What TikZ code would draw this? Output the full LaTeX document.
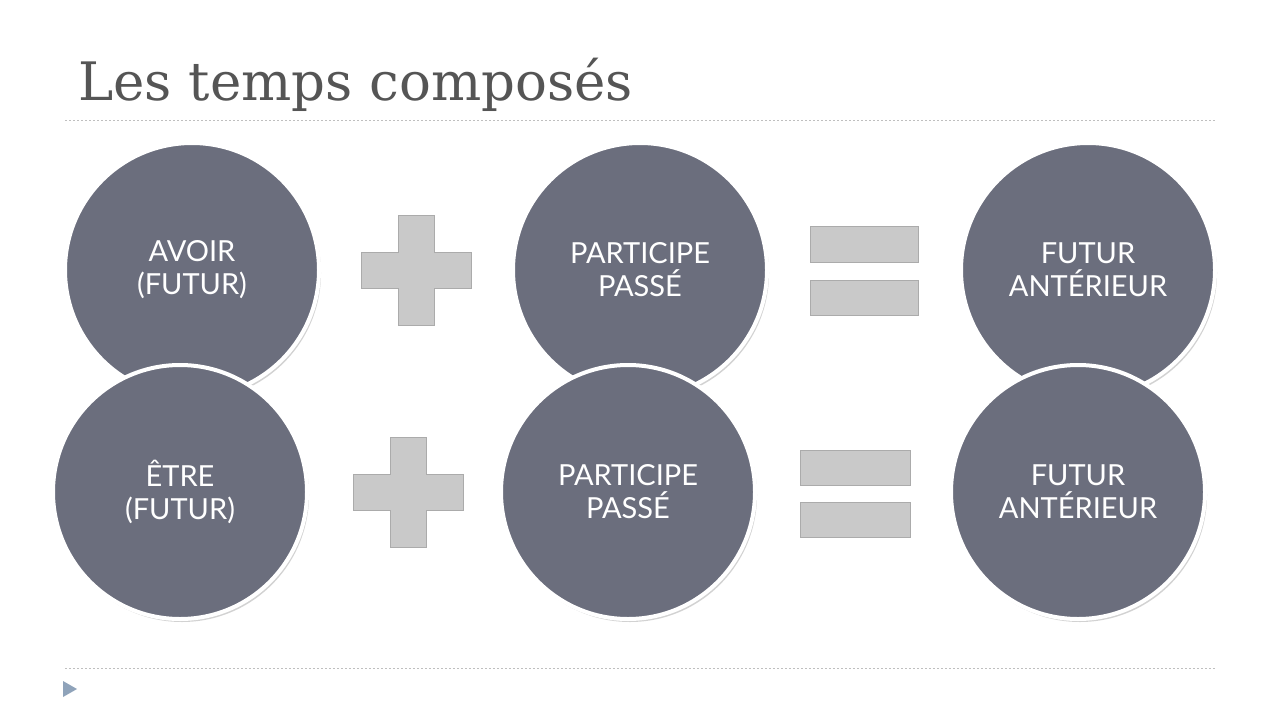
\documentclass[tikz,border=0pt]{standalone}
\usepackage{fontspec}
\setmainfont{DejaVu Serif}
\newfontfamily\circfont{Lato}
\definecolor{circ}{HTML}{6B6E7D}
\definecolor{sym}{HTML}{C9C9C9}
\definecolor{ttl}{HTML}{555555}
\definecolor{tri}{HTML}{8FA3BA}
\begin{document}
\begin{tikzpicture}[x=1pt,y=-1pt,
  circ/.style={circle,fill=circ,draw=white,line width=4pt,minimum size=254pt,inner sep=0pt,
    text=white,align=center,font=\circfont\fontsize{29}{33}\selectfont,
    preaction={fill=black!35,opacity=0.5,transform canvas={shift={(2pt,-3pt)}}}},
  symb/.style={fill=sym,draw=sym!85!black,line width=0.6pt},
  sep/.style={draw=gray!50,dash pattern=on 2pt off 2pt,line width=0.8pt}]
\useasboundingbox (0,0) rectangle (1280,720);
\fill[white] (0,0) rectangle (1280,720);
\node[anchor=base west,text=ttl,font=\fontsize{53}{60}\selectfont,inner sep=0pt] (title) at (78,100) {Les temps composés};
\draw[sep] (65,120) -- (1215,120);
\draw[sep] (65,668) -- (1215,668);
\fill[tri] (63,681) -- (77,689) -- (63,697) -- cycle;
% row 1
\node[circ] (a1) at (192,270) {AVOIR\\(FUTUR)};
\node[circ] (b1) at (640,270) {PARTICIPE\\PASSÉ};
\node[circ] (c1) at (1088,270) {FUTUR\\ANTÉRIEUR};
\draw[symb] (398,215) -- (434,215) -- (434,252) -- (471,252) -- (471,288) -- (434,288) -- (434,325) -- (398,325) -- (398,288) -- (361,288) -- (361,252) -- (398,252) -- cycle;
\draw[symb] (810,226) rectangle (918,262);
\draw[symb] (810,280) rectangle (918,315);
% row 2
\node[circ] (a2) at (180,492) {ÊTRE\\(FUTUR)};
\node[circ] (b2) at (628,492) {PARTICIPE\\PASSÉ};
\node[circ] (c2) at (1078,492) {FUTUR\\ANTÉRIEUR};
\draw[symb] (390,437) -- (426,437) -- (426,474) -- (463,474) -- (463,510) -- (426,510) -- (426,547) -- (390,547) -- (390,510) -- (353,510) -- (353,474) -- (390,474) -- cycle;
\draw[symb] (800,450) rectangle (910,485);
\draw[symb] (800,502) rectangle (910,537);
\end{tikzpicture}
\end{document}
